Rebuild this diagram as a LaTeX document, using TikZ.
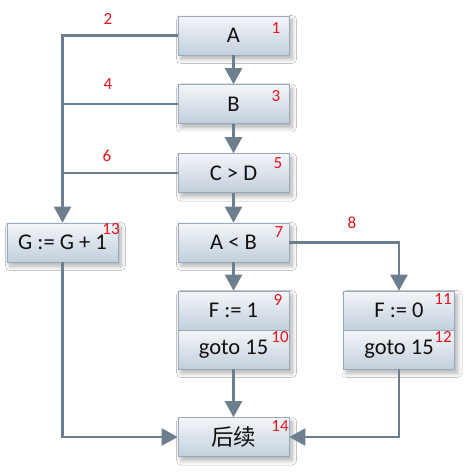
\documentclass[tikz,border=0pt]{standalone}
\usepackage{fontspec}
\setmainfont{Carlito}
\newfontfamily\cjk{Noto Sans CJK SC}
\usetikzlibrary{arrows.meta,shadows.blur}
\definecolor{edgec}{HTML}{6D7E8F}
\definecolor{boxtop}{HTML}{F3F6F9}
\definecolor{boxbot}{HTML}{C2CFDB}
\definecolor{boxline}{HTML}{98A9BA}
\definecolor{numred}{HTML}{E5131D}
\definecolor{txt}{HTML}{111111}
\begin{document}
\begin{tikzpicture}[x=1bp,y=-1bp,
  shad/.style={blur shadow={shadow xshift=3bp, shadow yshift=-4bp, shadow blur steps=8, shadow blur radius=4.5bp, shadow opacity=32}},
  blkplain/.style={draw=boxline, line width=0.6bp, top color=boxtop, bottom color=boxbot,
    minimum width=111bp, minimum height=39bp, inner sep=0, text=txt,
    font=\fontsize{22.5bp}{26bp}\selectfont},
  blk/.style={blkplain, shad},
  bgbox/.style={fill=boxbot, minimum width=111bp, minimum height=78bp, inner sep=0, shad},
  num/.style={text=numred, font=\fontsize{17bp}{19bp}\selectfont, inner sep=0},
  conn/.style={draw=edgec, line width=2.3bp},
  arr/.style={conn, -{Triangle[width=17bp,length=16bp]}},
]
\useasboundingbox (0,0) rectangle (474,476);
\fill[white] (0,0) rectangle (474,476);

\node[blk] (A)  at (233.5,35.5) {A};
\node[blk] (B)  at (233.5,104) {B};
\node[blk] (CD) at (233.5,173) {C > D};
\node[blk] (AB) at (233.5,242.5) {A < B};
\node[bgbox] (L) at (233.5,330) {};
\node[blkplain] (F1) at (233.5,310.5) {F := 1};
\node[blkplain] (T1) at (233.5,349.5) {goto 15};
\node[bgbox] (R) at (399,330) {};
\node[blkplain] (F0) at (399,310.5) {F := 0};
\node[blkplain] (T0) at (399,349.5) {goto 15};
\node[blk] (G)  at (62.5,242.5) {G := G + 1};
\node[blk] (H)  at (233.5,437) {\cjk 后续};

\node[num] (n1)  at (276,28) {1};
\node[num] (n2)  at (108,19) {2};
\node[num] (n3)  at (276,96) {3};
\node[num] (n4)  at (108,84) {4};
\node[num] (n5)  at (278,163) {5};
\node[num] (n6)  at (107,156) {6};
\node[num] (n7)  at (279,232) {7};
\node[num] (n8)  at (352,223) {8};
\node[num] (n9)  at (278,300) {9};
\node[num] (n10) at (280,337) {10};
\node[num] (n11) at (443,299) {11};
\node[num] (n12) at (443,337) {12};
\node[num] (n13) at (111,229) {13};
\node[num] (n14) at (280,426) {14};

\draw[arr] (A) -- (B);
\draw[arr] (B) -- (CD);
\draw[arr] (CD) -- (AB);
\draw[arr] (AB) -- (F1);
\draw[arr] (T1) -- (H);
\draw[arr] (AB.east) -| (F0.north);
\draw[arr] (T0.south) |- (H.east);
\draw[arr] (G.south) |- (H.west);
\draw[arr] (A.west) -| (G.north);
\draw[conn] (B.west) -- (B.west -| G.north);
\draw[conn] (CD.west) -- (CD.west -| G.north);
\end{tikzpicture}
\end{document}
